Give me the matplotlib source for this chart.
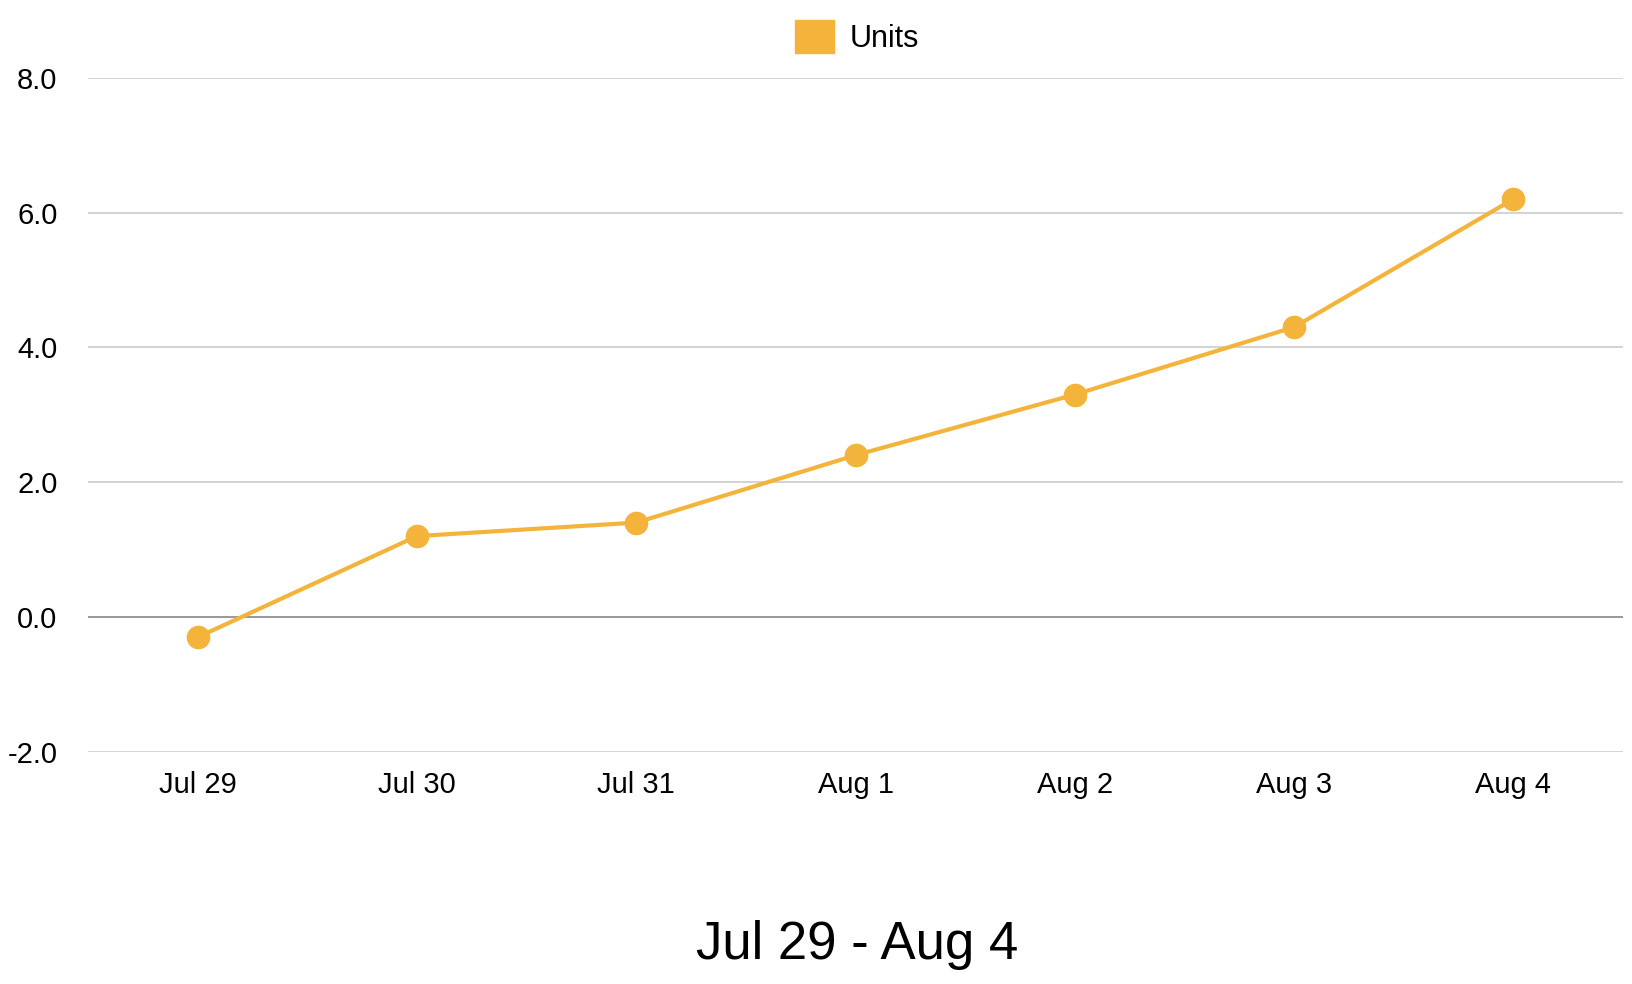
import matplotlib
matplotlib.use("Agg")
import matplotlib.pyplot as plt
from matplotlib.patches import Patch

categories = ["Jul 29", "Jul 30", "Jul 31", "Aug 1", "Aug 2", "Aug 3", "Aug 4"]
units = [-0.3, 1.2, 1.4, 2.4, 3.3, 4.3, 6.2]
yticks = [-2, 0, 2, 4, 6, 8]
color = "#F4B43C"

plt.rcParams['font.family'] = ['Liberation Sans', 'DejaVu Sans']
fig = plt.figure(figsize=(16.32, 9.84), dpi=100)
ax = fig.add_axes([0.054, 0.236, 0.9405, 0.685])
x = list(range(len(categories)))
ax.plot(x, units, color=color, lw=3, marker='o', ms=16, zorder=3)
ax.set_xlim(-0.5, 6.5)
ax.set_ylim(-2, 8)
ax.set_yticks(yticks)
ax.set_yticklabels([f"{v:.1f}" for v in yticks], fontsize=21)
ax.set_xticks(x)
ax.set_xticklabels(categories, fontsize=21)
for y in yticks:
    ax.axhline(y, color="#888888" if y == 0 else "#cccccc", lw=1.2, zorder=1)
for s in ax.spines.values():
    s.set_visible(False)
ax.tick_params(length=0, pad=14)
ax.tick_params(axis='y', pad=22)
for lab in ax.get_yticklabels():
    lab.set_horizontalalignment('right')
fig.text(0.525, 0.025, "Jul 29 - Aug 4", ha='center', fontsize=38)
fig.legend(handles=[Patch(color=color, label="Units")], loc='upper center',
           bbox_to_anchor=(0.525, 1.008), frameon=False, fontsize=22,
           handlelength=1.3, handleheight=1.3, handletextpad=0.5)
fig.savefig("out.png", dpi=100)
